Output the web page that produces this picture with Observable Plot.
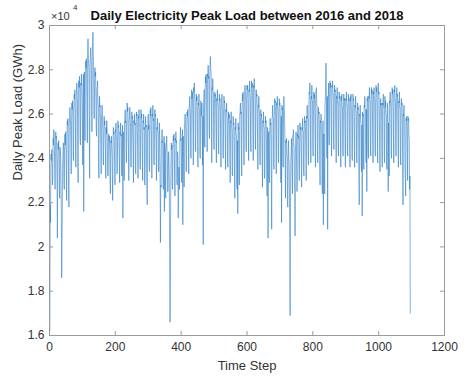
<!DOCTYPE html>
<html><head><meta charset="utf-8">
<script src="https://cdn.jsdelivr.net/npm/d3@7"></script>
<script src="https://cdn.jsdelivr.net/npm/@observablehq/plot@0.6"></script>
<style>
html,body{margin:0;padding:0;background:#fff;}
#chart{width:474px;height:379px;overflow:hidden;}
</style></head><body><div id="chart"></div>
<script>
// Daily peak load, in hundreds of GWh (245 = 24,500 GWh = 2.45 x10^4)
const load2016 = [162,219,211,
234,242,239,244,236,228,231,
249,246,253,251,244,235,226,
243,252,249,250,241,228,204,
236,247,244,248,240,225,222,
245,243,240,228,213,186,203,
219,238,241,247,244,229,226,
248,251,246,252,245,236,221,
250,257,255,258,249,229,218,
256,258,263,259,255,247,233,
257,265,262,266,259,241,239,
263,269,267,271,262,251,236,
268,270,274,269,265,238,229,
271,275,272,277,270,249,246,
274,273,278,272,266,253,237,
270,278,216,262,279,256,248,
279,284,281,285,276,261,247,
287,294,285,283,279,250,231,
283,285,290,286,281,266,252,
286,292,297,287,281,260,258,
274,281,277,279,268,253,250,
271,272,275,266,263,238,231,
262,268,263,264,255,246,233,
259,260,264,257,253,240,237,
252,259,255,257,249,243,231,
254,251,257,252,247,233,232,
245,251,248,250,242,230,224,
248,247,250,244,241,232,221,
247,254,251,252,245,237,228,
253,252,256,250,248,233,234,
250,257,254,255,247,240,229,
252,251,256,250,251,234,232,
249,255,213,252,251,241,230,
257,258,262,256,257,239,238,
259,265,261,263,253,243,230,
258,258,263,257,256,237,236,
254,261,258,259,250,242,229,
257,256,260,255,256,235,233,
253,261,259,260,252,243,231,
259,258,262,255,254,236,235,
254,262,258,260,251,241,230,
257,256,260,253,254,229,228,
252,259,254,255,236,226,219,
254,255,260,253,255,235,234,
255,262,259,263,253,244,231,
260,259,264,257,258,239,237,
255,262,259,260,251,243,230,
254,253,258,252,252,234,234,
250,256,247,233,202,228,227,
248,249,253,247,248,227,226,
243,250,216,247,246,234,222,
245,246,250,243,242,225,225,
236,243,239,229,196,166];

const load2017 = [172,
219,236,247,244,246,228,226,
244,250,248,251,243,234,223,
249,248,252,247,248,229,228,
243,241,213,224,236,232,226,
247,249,254,248,249,231,229,
246,253,210,249,250,238,227,
255,256,260,254,253,235,234,
254,261,259,262,255,245,233,
263,264,268,262,261,241,240,
265,271,267,270,262,250,237,
272,270,274,268,266,245,243,
262,269,266,268,260,248,236,
265,264,269,263,262,242,240,
260,266,261,259,265,249,237,
259,201,263,266,271,248,245,
271,277,274,278,271,257,243,
278,277,282,276,277,252,249,
277,284,286,280,279,259,238,
272,271,276,270,269,247,244,
264,270,268,269,262,250,238,
267,266,271,264,264,244,242,
262,269,266,267,260,249,236,
266,267,269,263,262,242,240,
261,268,265,266,258,246,235,
262,261,265,259,258,237,236,
254,261,258,260,252,240,229,
257,256,261,254,253,233,232,
252,259,255,256,248,235,222,
254,253,258,251,250,228,226,
248,215,256,253,254,230,228,
259,261,265,260,261,244,232,
262,269,266,270,261,248,237,
268,268,273,268,268,246,243,
266,273,271,273,265,252,239,
271,270,275,268,268,246,243,
268,275,272,274,266,253,239,
273,272,276,271,270,247,244,
264,271,268,269,261,249,235,
264,263,268,261,261,239,237,
255,262,259,260,252,240,227,
257,256,261,254,254,231,231,
252,259,256,257,249,236,223,
254,253,204,252,252,232,229,
251,258,255,256,248,228,208,
258,259,264,258,258,237,235,
260,267,265,266,258,247,233,
265,264,268,262,262,240,238,
260,267,264,265,257,243,229,
259,211,264,262,263,239,236,
261,268,262,260,250,235,222,
248,247,249,242,240,219,218,
242,248,240,238,224,202,169];

const load2018 = [212,238,242,249,243,233,224,
250,250,253,246,246,228,226,
205,242,246,252,245,235,225,
251,250,255,249,250,232,230,
249,256,253,254,247,237,227,
254,253,258,252,252,234,232,
252,259,256,257,250,240,230,
259,258,264,258,258,239,237,
262,270,269,274,266,250,238,
268,267,273,266,266,245,241,
263,270,267,269,261,248,236,
270,271,272,264,264,242,238,
256,263,260,261,253,239,228,
257,256,260,253,252,228,224,
250,257,210,251,251,236,224,
264,266,276,283,273,254,240,
268,208,266,268,274,250,246,
268,275,272,274,266,253,241,
273,272,275,269,269,248,244,
266,273,270,271,263,250,238,
268,267,272,265,265,244,241,
263,270,267,268,260,247,236,
268,266,269,263,263,243,241,
262,269,266,267,259,246,236,
267,266,270,264,264,243,241,
262,269,266,267,259,246,236,
268,266,269,262,262,241,239,
262,269,266,267,259,246,236,
264,263,268,261,261,240,238,
258,265,262,263,255,234,219,
260,259,264,257,257,236,234,
255,214,261,259,260,238,235,
264,263,268,262,262,241,238,
262,225,267,266,268,244,240,
268,267,272,266,266,245,241,
265,272,269,271,263,249,238,
270,269,272,266,266,244,241,
266,273,270,272,264,249,238,
272,274,269,270,261,247,234,
260,267,264,265,257,240,236,
265,264,269,263,263,241,238,
268,263,266,260,260,238,235,
258,265,262,225,256,243,232,
266,265,270,264,264,243,240,
265,272,269,271,263,249,238,
271,270,273,266,266,244,241,
265,272,268,269,261,247,236,
266,265,270,263,263,241,237,
260,267,264,265,256,234,219,
260,259,264,257,257,234,231,
223,258,257,259,252,242,230,
259,257,258,250,248,226,232,
170];

const xTicks = [0, 200, 400, 600, 800, 1000, 1200];
const yTicks = [1.6, 1.8, 2, 2.2, 2.4, 2.6, 2.8, 3];
const titleText = "Daily Electricity Peak Load between 2016 and 2018";
const xLabelText = "Time Step";
const yLabelText = "Daily Peak Load (GWh)";
const exponentBase = "×10";
const exponentPower = "4";

const series = [...load2016, ...load2017, ...load2018]
  .map((v, i) => ({step: i + 1, load: v / 100}));

const axisColor = "#9b9b9b";
const textColor = "#333333";
const lineColor = "#2f80c8";
const fw = 474 - 49 - 30, fh = 379 - 25 - 44;

const chart = Plot.plot({
  width: 474, height: 379,
  marginLeft: 49, marginRight: 30, marginTop: 25, marginBottom: 44,
  style: {fontFamily: "'Liberation Sans', Arial, sans-serif", fontSize: "12px", background: "#fff", color: textColor},
  x: {domain: [0, 1200]},
  y: {domain: [1.6, 3]},
  marks: [
    Plot.lineY(series, {x: "step", y: "load", stroke: lineColor, strokeWidth: 0.6}),
    Plot.frame({stroke: axisColor}),
    Plot.tickX(xTicks, {x: d => d, stroke: axisColor, insetTop: fh - 4}),
    Plot.tickX(xTicks, {x: d => d, stroke: axisColor, insetBottom: fh - 4}),
    Plot.tickY(yTicks, {y: d => d, stroke: axisColor, insetLeft: fw - 4}),
    Plot.tickY(yTicks, {y: d => d, stroke: axisColor, insetRight: fw - 4}),
    Plot.axisX({ticks: xTicks, tickSize: 0, tickPadding: 7, label: null, tickFormat: d3.format("~g"), fill: textColor}),
    Plot.axisY({ticks: yTicks, tickSize: 0, tickPadding: 5, label: null, tickFormat: d3.format("~g"), fill: textColor}),
    Plot.text([titleText], {text: d => d, frameAnchor: "top", lineAnchor: "middle", dy: -10, fontSize: 13, fontWeight: "bold", fill: "#111"}),
    Plot.text([exponentBase], {text: d => d, frameAnchor: "top-left", lineAnchor: "middle", dx: 1.5, dy: -9, textAnchor: "start", fontSize: 11, fill: textColor}),
    Plot.text([exponentPower], {text: d => d, frameAnchor: "top-left", lineAnchor: "middle", dx: 23.5, dy: -18, textAnchor: "start", fontSize: 8, fill: textColor}),
    Plot.text([xLabelText], {text: d => d, frameAnchor: "bottom", lineAnchor: "middle", dy: 30, fontSize: 13, fill: textColor}),
    Plot.text([yLabelText], {text: d => d, frameAnchor: "left", lineAnchor: "middle", dx: -32, rotate: -90, fontSize: 13, fill: textColor})
  ]
});
document.getElementById("chart").appendChild(chart);
</script>
</body></html>
